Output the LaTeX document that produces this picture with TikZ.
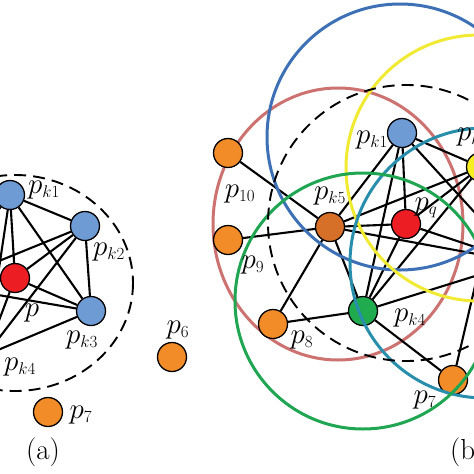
\RequirePackage{fix-cm}
\documentclass[tikz,border=0pt]{standalone}
\DeclareMathSizes{29}{29}{17}{13}
\definecolor{nblue}{RGB}{110,155,212}
\definecolor{nred}{RGB}{236,30,36}
\definecolor{norange}{RGB}{242,140,40}
\definecolor{ndorange}{RGB}{214,112,40}
\definecolor{ngreen}{RGB}{32,172,78}
\definecolor{nyellow}{RGB}{246,238,30}
\definecolor{cblue}{RGB}{62,112,182}
\definecolor{cyellow}{RGB}{240,234,50}
\definecolor{cteal}{RGB}{40,142,172}
\definecolor{cgreen}{RGB}{32,166,82}
\definecolor{cpink}{RGB}{204,114,112}
\begin{document}
\begin{tikzpicture}[x=1pt,y=-1pt,
  vtx/.style={circle,draw=black,line width=1.3pt,minimum size=29pt,inner sep=0pt},
  edge/.style={line width=2.1pt,black},
  ring/.style={line width=3pt},
  lbl/.style={font=\fontsize{29}{32}\selectfont,inner sep=0pt},
  captxt/.style={font=\fontsize{29}{32}\selectfont,inner sep=0pt},
  dashring/.style={line width=1.9pt,dash pattern=on 12pt off 7pt}]
\useasboundingbox (0,0) rectangle (474,474);
\clip (0,0) rectangle (474,474);
\fill[white] (0,0) rectangle (474,474);

% ---------- panel (a) ----------
\coordinate (a4) at (-14,355);
\coordinate (a5) at (-60,285);
\node[vtx,fill=nblue] (a1) at (10,195) {};
\node[vtx,fill=nblue] (a2) at (85,226) {};
\node[vtx,fill=nblue] (a3) at (91,311) {};
\node[vtx,fill=nred] (ap) at (15,278) {};
\node[vtx,fill=norange] (a6) at (172,357) {};
\node[vtx,fill=norange] (a7) at (48,412) {};
\foreach \u/\v in {a1/a2,a1/a3,a1/ap,a1/a4,a1/a5,a2/a3,a2/ap,a2/a4,a2/a5,a3/ap,a3/a4,a3/a5,ap/a4,ap/a5,a4/a5}
  \draw[edge] (\u) -- (\v);
\draw[dashring] (15,283) ellipse [x radius=118, y radius=108];
\node[lbl] (la1) at (44,190) {$p_{k1}$};
\node[lbl] (la2) at (109,252) {$p_{k2}$};
\node[lbl] (la3) at (82,340) {$p_{k3}$};
\node[lbl] (lap) at (32,313) {$p$};
\node[lbl] (la4) at (20,367) {$p_{k4}$};
\node[lbl] (la6) at (178,330) {$p_{6}$};
\node[lbl] (la7) at (81,415) {$p_{7}$};
\node[captxt] (capa) at (43,452) {(a)};

% ---------- panel (b) ----------
\coordinate (b3) at (520,262);
\coordinate (q7) at (490,222);
\draw[ring,cpink] (338,224) ellipse [x radius=125, y radius=136];
\node[vtx,fill=nblue] (b1) at (402,133) {};
\node[vtx,fill=nyellow] (b2) at (481,167) {};
\node[vtx,fill=nred] (bq) at (406,224) {};
\node[vtx,fill=ndorange] (b5) at (330,227) {};
\node[vtx,fill=ngreen] (b4) at (363,311) {};
\node[vtx,fill=norange] (b10) at (228,153) {};
\node[vtx,fill=norange] (b9) at (228,240) {};
\node[vtx,fill=norange] (b8) at (273,324) {};
\node[vtx,fill=norange] (b7) at (453,380) {};
\foreach \u/\v in {b1/b2,b1/b3,b1/b4,b1/b5,b1/bq,b2/b3,b2/b4,b2/b5,b2/bq,b3/b4,b3/b5,b3/bq,b4/b5,b4/bq,b5/bq,b10/b5,b9/b5,b8/b5,b8/b4,b4/b7,b7/q7}
  \draw[edge] (\u) -- (\v);
\draw[ring,cblue] (400,137) circle [radius=133];
\draw[ring,cyellow] (479,168) circle [radius=133];
\draw[ring,cteal] (485,263) circle [radius=135];
\draw[ring,cgreen] (363,301) circle [radius=128];
\draw[dashring] (406,223) circle [radius=138];
\node[lbl] (lb1) at (372,140) {$p_{k1}$};
\node[lbl,anchor=west] (lb2) at (457,137) {$p_{k2}$};
\node[lbl] (lb5) at (330,196) {$p_{k5}$};
\node[lbl] (lbq) at (426,208) {$p_{q}$};
\node[lbl] (lb10) at (240,194) {$p_{10}$};
\node[lbl] (lb9) at (253,265) {$p_{9}$};
\node[lbl] (lb8) at (302,340) {$p_{8}$};
\node[lbl] (lb4) at (410,318) {$p_{k4}$};
\node[lbl] (lb7) at (425,400) {$p_{7}$};
\node[captxt,anchor=west] (capb) at (450,452) {(b)};
\end{tikzpicture}
\end{document}
